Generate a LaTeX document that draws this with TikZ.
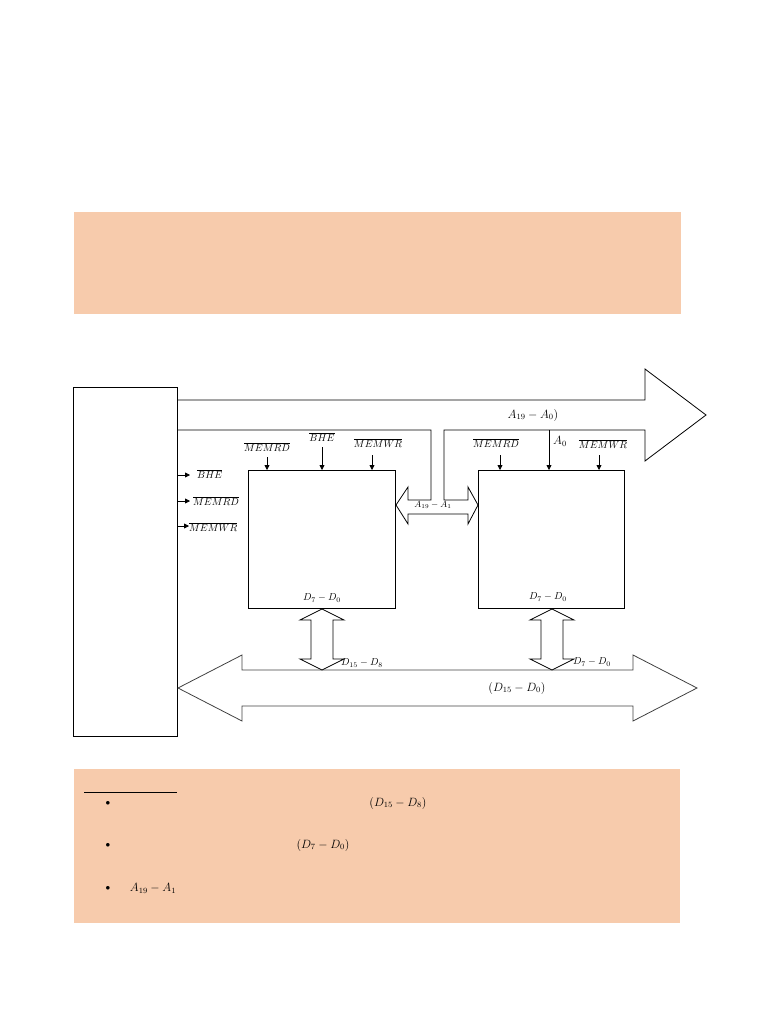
\documentclass[tikz,border=0pt]{standalone}
\usetikzlibrary{arrows.meta}
\begin{document}
\begin{tikzpicture}[x=1pt,y=-1pt,
  peach/.style={fill=peachc,draw=none},
  blk/.style={draw,line width=0.8pt},
  sig/.style={-{Triangle[length=5pt,width=5pt]},line width=0.8pt},
  lab/.style={inner sep=0pt,font=\normalsize},
  big/.style={inner sep=0pt,font=\large}]
\definecolor{peachc}{HTML}{F7CBAC}
\useasboundingbox (0,0) rectangle (768,1024);
\fill[peach] (74,212) rectangle (681,314);
\fill[peach] (74,769) rectangle (680,923);
% CPU
\node[blk,minimum width=104pt,minimum height=349pt,inner sep=0pt] (cpu) at (125,561.5) {};
% memory banks
\node[blk,minimum width=147pt,minimum height=138pt,inner sep=0pt] (b1) at (321.5,539) {};
\node[blk,minimum width=146pt,minimum height=138pt,inner sep=0pt] (b2) at (551,539) {};
% address bus arrow
\draw[line width=0.8pt] (177,400) -- (645,400) -- (645,369) -- (706,415) -- (645,461) -- (645,430) -- (444,430) -- (444,500) -- (468,500) -- (468,487) -- (478,505) -- (468,524) -- (468,514) -- (408,514) -- (408,524) -- (396,505) -- (408,487) -- (408,500) -- (431,500) -- (431,430) -- (177,430);
\node[big] (abus) at (533,415) {$A_{19}-A_0)$};
\node[lab,font=\small] (a191) at (433,505) {$A_{19}-A_1$};
% data bus arrow
\draw[line width=0.8pt,draw=black!75] (178,688) -- (242,655) -- (242,670) -- (633,670) -- (633,655) -- (697,688) -- (633,721) -- (633,706) -- (242,706) -- (242,721) -- cycle;
\node[big] (dbus) at (517,688) {$(D_{15}-D_0)$};
% vertical double arrows
\foreach \c/\n in {322/l,552/r}{
  \draw[line width=0.8pt,fill=white] (\c,609) -- (\c+22,620) -- (\c+11,620) -- (\c+11,659) -- (\c+22,659) -- (\c,670) -- (\c-22,659) -- (\c-11,659) -- (\c-11,620) -- (\c-22,620) -- cycle;
}
\node[lab] (d158) at (362,663) {$D_{15}-D_8$};
\node[lab] (d70r) at (592,662) {$D_7-D_0$};
\node[lab] (d70a) at (322,598) {$D_7-D_0$};
\node[lab] (d70b) at (548,597) {$D_7-D_0$};
% control inputs bank 1
\node[lab] (m1) at (267,447) {$\overline{MEMRD}$};
\node[lab] (h1) at (322,437) {$\overline{BHE}$};
\node[lab] (w1) at (378,443) {$\overline{MEMWR}$};
\coordinate (m1e) at (267,470); \coordinate (h1e) at (322,470); \coordinate (w1e) at (372,470);
\draw[sig] (267,457) -- (m1e);
\draw[sig] (322,447) -- (h1e);
\draw[sig] (372,455) -- (w1e);
% control inputs bank 2
\node[lab] (m2) at (496,443) {$\overline{MEMRD}$};
\node[big] (a0) at (560,441) {$A_0$};
\node[lab] (w2) at (603,444) {$\overline{MEMWR}$};
\draw[sig] (500,455) -- (500,470);
\draw[sig] (549,430) -- (549,470);
\draw[sig] (599,455) -- (599,470);
% CPU outputs
\node[lab,anchor=west] (o1) at (197,474) {$\overline{BHE}$};
\node[lab,anchor=west] (o2) at (193,501) {$\overline{MEMRD}$};
\node[lab,anchor=west] (o3) at (189,527) {$\overline{MEMWR}$};
\draw[sig] (177,475) -- (190,475);
\draw[sig] (177,501) -- (190,501);
\draw[sig] (177,526) -- (189,526);
% bottom notes
\draw[line width=0.6pt] (84,792) -- (177,792);
\node[lab,font=\small] (bl1) at (108,803) {$\bullet$};
\node[lab,font=\small] (bl2) at (108,845) {$\bullet$};
\node[lab,font=\small] (bl3) at (108,888) {$\bullet$};
\node[big] (t1) at (398,803) {$(D_{15}-D_8)$};
\node[big] (t2) at (323,845) {$(D_7-D_0)$};
\node[big] (t3) at (153,888) {$A_{19}-A_1$};
\end{tikzpicture}
\end{document}
